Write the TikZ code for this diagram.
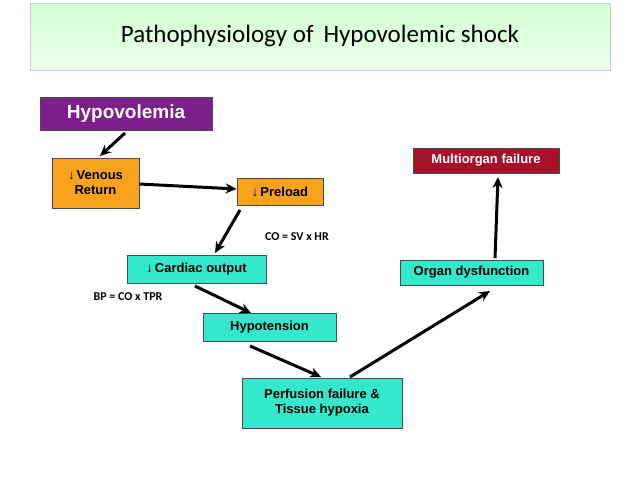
\documentclass[tikz,border=0pt]{standalone}
\usepackage{fontspec}
\setmainfont{Liberation Sans}
\newfontfamily\calib{Carlito}
\usetikzlibrary{arrows.meta}
\definecolor{purp}{HTML}{7E1E8C}
\definecolor{orng}{HTML}{F7A21B}
\definecolor{cyn}{HTML}{33E8CC}
\definecolor{dred}{HTML}{A5122A}
\begin{document}
\begin{tikzpicture}[x=1pt,y=-1pt,
 bx/.style={draw=black!70,line width=0.8pt,font=\bfseries\fontsize{13}{15}\selectfont,align=center,inner sep=0pt},
 arr/.style={-{Stealth[length=11pt,width=10pt]},line width=3pt},
 eq/.style={font=\calib\bfseries\fontsize{12}{14}\selectfont}]
\useasboundingbox (0,0) rectangle (638,479);
\fill[white] (0,0) rectangle (638,479);
\shade[top color=green!18!white,bottom color=green!8!white,draw=black!20] (30,3) rectangle (610,70);
\node[font=\calib\fontsize{25}{28}\selectfont] (title) at (320,36) {Pathophysiology of\, Hypovolemic shock};
\node[bx,fill=purp,text=white,font=\bfseries\fontsize{19}{22}\selectfont,minimum width=172pt,minimum height=33pt] (hyp) at (126,113.5) {Hypovolemia};
\node[bx,fill=orng,minimum width=87pt,minimum height=50pt] (ven) at (95.5,183) {\textdownarrow\,Venous\\Return};
\node[bx,fill=orng,minimum width=86pt,minimum height=27pt] (pre) at (280,191.5) {\textdownarrow\,Preload};
\node[bx,fill=cyn,minimum width=139pt,minimum height=28pt] (co) at (196.5,269) {\textdownarrow\,Cardiac output};
\node[bx,fill=cyn,minimum width=133pt,minimum height=28pt] (hto) at (269.5,327) {Hypotension};
\node[bx,fill=cyn,minimum width=160pt,minimum height=50pt] (perf) at (322,403) {Perfusion failure \&\\Tissue hypoxia};
\node[bx,fill=cyn,minimum width=143pt,minimum height=25pt] (org) at (471.5,272.5) {Organ dysfunction};
\node[bx,fill=dred,text=white,minimum width=146pt,minimum height=25pt] (mof) at (486,160.5) {Multiorgan failure};
\node[eq] (eq1) at (297,237) {CO = SV x HR};
\node[eq] (eq2) at (128,297) {BP = CO x TPR};
\coordinate (a1) at (125,133); \coordinate (a2) at (100,156);
\draw[arr] (a1) -- (a2);
\draw[arr] (ven.east|-143,184) -- (pre.west|-235,189);
\draw[arr] (240,210) -- (215,253);
\draw[arr] (195,286) -- (251,313);
\draw[arr] (250,346) -- (321,377);
\draw[arr] (350,377) -- (490,291);
\draw[arr] (495,258) -- (498,177);
\end{tikzpicture}
\end{document}
